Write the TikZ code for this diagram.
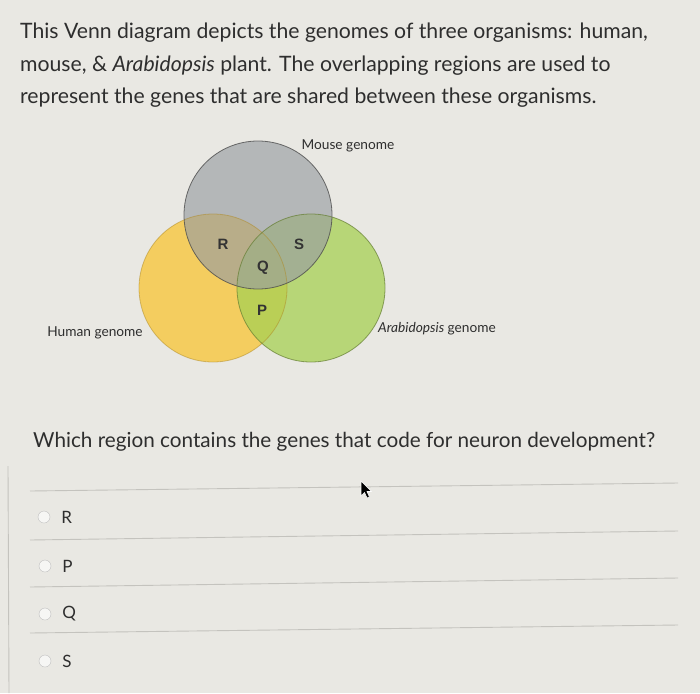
\documentclass[tikz,border=0pt]{standalone}
\usepackage{fontspec}
\setmainfont{Lato}
\newfontfamily\regionfont{Liberation Sans}
\usetikzlibrary{positioning}

\definecolor{paper}{HTML}{E9E8E3}
\definecolor{mousegray}{HTML}{999DA1}
\definecolor{humanyellow}{HTML}{F9C433}
\definecolor{plantgreen}{HTML}{A7D154}
\definecolor{rulegray}{HTML}{C4C3BE}
\definecolor{inkgray}{HTML}{2E2E2E}

\tikzset{
  bodytext/.style={anchor=base west,inner sep=0pt,text=inkgray,font=\fontsize{21.2}{24}\selectfont},
  genome/.style={inner sep=0pt,text=inkgray,font=\fontsize{13.7}{15}\selectfont},
  region/.style={inner sep=0pt,text=black!80,font=\regionfont\bfseries\fontsize{15}{17}\selectfont},
  radio/.style={circle,draw=black!25,fill=white!60!paper,minimum size=12pt,inner sep=0pt},
  choice/.style={anchor=west,inner sep=0pt,text=inkgray,font=\fontsize{17}{20}\selectfont},
  rule/.style={draw=rulegray,line width=0.9pt},
}

\begin{document}
\begin{tikzpicture}[x=1pt,y=-1pt]
    \fill[paper](0,0)rectangle(700,693);
    \useasboundingbox(0,0)rectangle(700,693);

    % heading
    \node[bodytext](l1)at(20,39){This Venn diagram depicts the genomes of three organisms: human,};
    \node[bodytext](l2)at(20,71){mouse, \& \textit{Arabidopsis} plant. The overlapping regions are used to};
    \node[bodytext](l3)at(20,103){represent the genes that are shared between these organisms.};

    % venn
    \fill[humanyellow,fill opacity=0.75](213,288)circle(74);
    \fill[plantgreen,fill opacity=0.75](311,288)circle(74);
    \fill[mousegray,fill opacity=0.65](258,215)circle(74);
    \draw[humanyellow!70!black,opacity=0.5,line width=0.8pt](213,288)circle(74);
    \draw[plantgreen!60!black,opacity=0.7,line width=0.8pt](311,288)circle(74);
    \draw[black!70,opacity=0.8,line width=0.8pt](258,215)circle(74);

    \node[region](R)at(223,244){R};
    \node[region](S)at(299,244){S};
    \node[region](Q)at(263,268){Q};
    \node[region](P)at(262,310){P};

    \node[genome](mouse)at(348,146){Mouse genome};
    \node[genome](human)at(95,333){Human genome};
    \node[genome](plant)at(437,329){\textit{Arabidopsis} genome};

    % question
    \node[bodytext,font=\fontsize{20.7}{24}\selectfont](qq)at(33,447){Which region contains the genes that code for neuron development?};

    \draw[rule](30,491)--(678,483);
    \draw[rule](30,540)--(678,531);
    \draw[rule](30,587)--(678,578);
    \draw[rule](30,633)--(678,625);
    \draw[rulegray,line width=0.9pt](8,466)--(9,693);

    \node[radio](oR)at(44,517){};
    \node[radio](oP)at(45,566){};
    \node[radio](oQ)at(45,614){};
    \node[radio](oS)at(45,661){};
    \node[choice,right=11pt of oR]{R};
    \node[choice,right=11pt of oP]{P};
    \node[choice,right=11pt of oQ]{Q};
    \node[choice,right=11pt of oS]{S};

    % pointer
    \fill[black,draw=white,line width=0.6pt](361,481)--(361,496)--(364.5,492.5)--(367,498)--(369.5,497)--(367,491.5)--(371.5,491.5)--cycle;
\end{tikzpicture}
\end{document}
